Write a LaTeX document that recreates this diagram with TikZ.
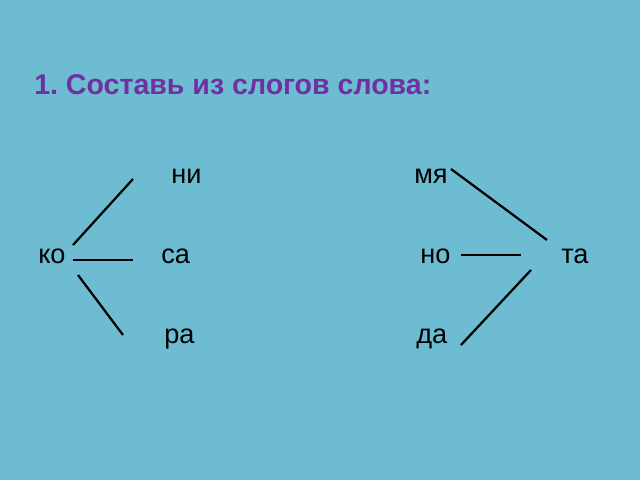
\documentclass[tikz,border=0pt]{standalone}
\usepackage{fontspec}
\setmainfont{Liberation Sans}
\usepackage{tikz}
\frenchspacing
\definecolor{slidebg}{HTML}{6EBCD2}
\definecolor{titlepurple}{HTML}{7030A0}
\tikzset{syl/.style={anchor=base west, inner sep=0pt, font=\fontsize{19.3}{22}\selectfont}}
\tikzset{link/.style={line width=1.6pt, black}}

\begin{document}
\begin{tikzpicture}[x=0.025cm,y=-0.025cm]
			\fill[slidebg] (0,0) rectangle (640,480);
			\useasboundingbox (0,0) rectangle (640,480);
			\node[anchor=base west, inner sep=0pt, text=titlepurple, font=\fontsize{20.3}{24}\selectfont\bfseries] (title) at (34,95) {1. Составь из слогов слова:};
			% left group
			\node[syl] (ni) at (171,183) {ни};
			\node[syl] (ko) at (38,263) {ко};
			\node[syl] (sa) at (161,263) {са};
			\node[syl] (ra) at (164,343) {ра};
			% right group
			\node[syl] (mya) at (414,183) {мя};
			\node[syl] (no) at (420,263) {но};
			\node[syl] (ta) at (561,263) {та};
			\node[syl] (da) at (416,343) {да};
			\coordinate (ko-ni) at (73,245); \coordinate (ni-ko) at (133,179);
			\coordinate (ko-sa) at (73,260); \coordinate (sa-ko) at (133,260);
			\coordinate (ko-ra) at (78,275); \coordinate (ra-ko) at (123,335);
			\coordinate (mya-ta) at (451,169); \coordinate (ta-mya) at (547,240);
			\coordinate (no-ta) at (461,255); \coordinate (ta-no) at (521,255);
			\coordinate (da-ta) at (461,345); \coordinate (ta-da) at (531,270);
			\draw[link] (ko-ni) -- (ni-ko);
			\draw[link] (ko-sa) -- (sa-ko);
			\draw[link] (ko-ra) -- (ra-ko);
			\draw[link] (mya-ta) -- (ta-mya);
			\draw[link] (no-ta) -- (ta-no);
			\draw[link] (da-ta) -- (ta-da);
		\end{tikzpicture}
\end{document}
